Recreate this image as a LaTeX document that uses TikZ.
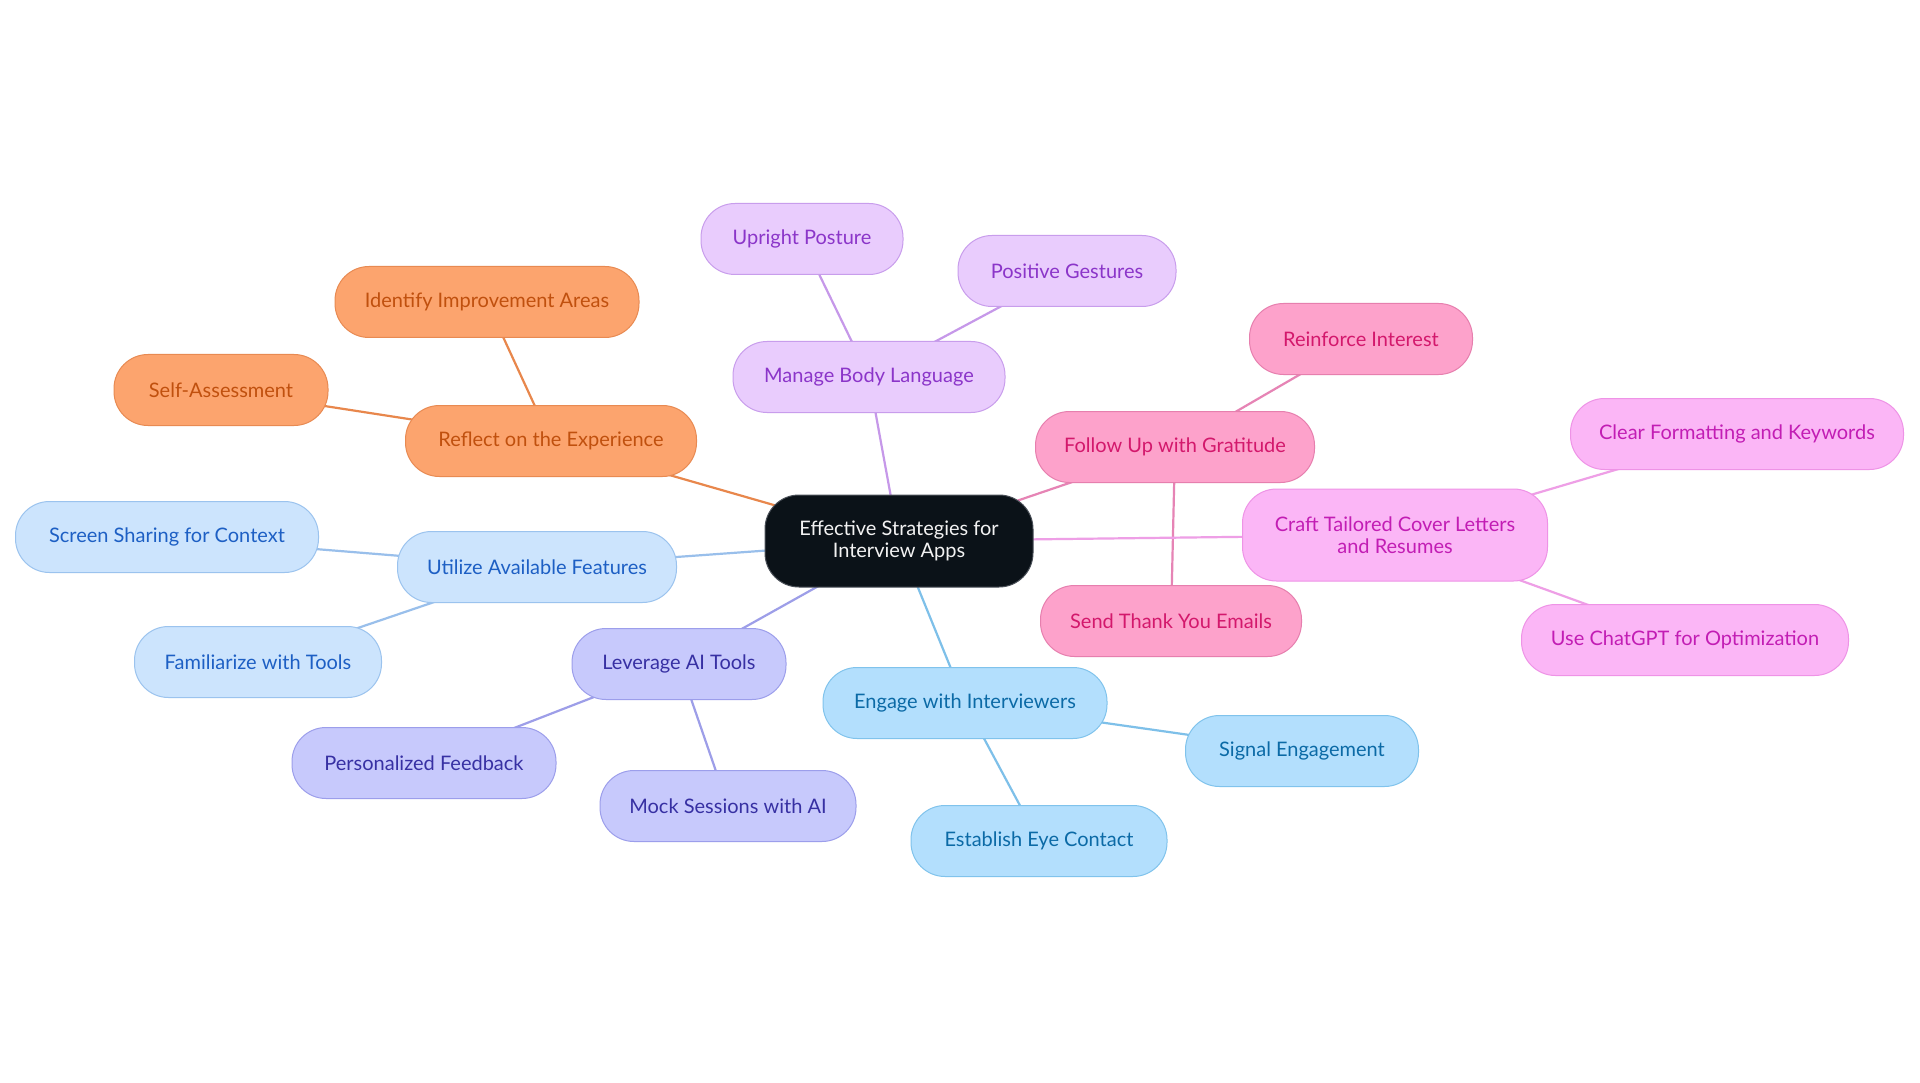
\documentclass[tikz,border=0pt]{standalone}
\usepackage{fontspec}
\setmainfont{Lato}
\usetikzlibrary{backgrounds}
\pgfdeclarelayer{bottom}
\pgfsetlayers{bottom,background,main}
\definecolor{ctrfill}{HTML}{0B1218}
\definecolor{ctrdraw}{HTML}{4A5058}
\definecolor{ctrtext}{HTML}{F2F2F2}
\definecolor{orfill}{HTML}{FCA46E}
\definecolor{ordraw}{HTML}{E88A52}
\definecolor{orline}{HTML}{E8874C}
\definecolor{ortext}{HTML}{C0500E}
\definecolor{pufill}{HTML}{E9CCFD}
\definecolor{pudraw}{HTML}{C89DEC}
\definecolor{puline}{HTML}{C698E9}
\definecolor{putext}{HTML}{8B35C9}
\definecolor{pkfill}{HTML}{FDA2CB}
\definecolor{pkdraw}{HTML}{E67FAE}
\definecolor{pkline}{HTML}{E684B5}
\definecolor{pktext}{HTML}{D3186C}
\definecolor{fufill}{HTML}{FBB6F6}
\definecolor{fudraw}{HTML}{EE93E6}
\definecolor{fuline}{HTML}{EE9FE6}
\definecolor{futext}{HTML}{C21DB4}
\definecolor{blfill}{HTML}{CCE4FD}
\definecolor{bldraw}{HTML}{9BC3EE}
\definecolor{blline}{HTML}{99BFEB}
\definecolor{bltext}{HTML}{1D5FC4}
\definecolor{infill}{HTML}{C7C9FC}
\definecolor{indraw}{HTML}{9C9EEB}
\definecolor{inline}{HTML}{9D9EE8}
\definecolor{intext}{HTML}{3730A3}
\definecolor{skfill}{HTML}{B3DFFD}
\definecolor{skdraw}{HTML}{80C3EC}
\definecolor{skline}{HTML}{7EC0E9}
\definecolor{sktext}{HTML}{0B6AA6}
\tikzset{
  pill/.style={rounded corners=34pt, minimum height=71pt, inner xsep=4pt, align=center,
    line width=1pt, font=\fontsize{20}{22}\selectfont},
  ctr/.style={pill, fill=ctrfill, draw=ctrdraw, text=ctrtext, minimum height=92pt, rounded corners=34pt},
  orn/.style={pill, fill=orfill, draw=ordraw, text=ortext},
  pun/.style={pill, fill=pufill, draw=pudraw, text=putext},
  pkn/.style={pill, fill=pkfill, draw=pkdraw, text=pktext},
  fun/.style={pill, fill=fufill, draw=fudraw, text=futext},
  bln/.style={pill, fill=blfill, draw=bldraw, text=bltext},
  inn/.style={pill, fill=infill, draw=indraw, text=intext},
  skn/.style={pill, fill=skfill, draw=skdraw, text=sktext},
  link/.style={line width=2.2pt}
}
\begin{document}
\begin{tikzpicture}[x=1pt,y=-1pt]
\begin{pgfonlayer}{bottom}
\fill[white] (0,0) rectangle (1920,1083);
\end{pgfonlayer}
\useasboundingbox (0,0) rectangle (1920,1083);

\node[ctr, minimum width=268pt] (c) at (899,541) {Effective Strategies for\\Interview Apps};

\node[orn, minimum width=291pt] (refl) at (551,441) {Reflect on the Experience};
\node[orn, minimum width=304pt] (ident) at (487,302) {Identify Improvement Areas};
\node[orn, minimum width=214pt] (self) at (221,390) {Self-Assessment};

\node[pun, minimum width=272pt] (body) at (869,377) {Manage Body Language};
\node[pun, minimum width=202pt] (post) at (802,239) {Upright Posture};
\node[pun, minimum width=218pt] (gest) at (1067,271) {Positive Gestures};

\node[pkn, minimum width=279pt] (foll) at (1175,447) {Follow Up with Gratitude};
\node[pkn, minimum width=223pt] (reinf) at (1361,339) {Reinforce Interest};
\node[pkn, minimum width=261pt] (thank) at (1171,621) {Send Thank You Emails};

\node[fun, minimum width=305pt, minimum height=92pt] (craft) at (1395,535) {Craft Tailored Cover Letters\\and Resumes};
\node[fun, minimum width=333pt] (clear) at (1737,434) {Clear Formatting and Keywords};
\node[fun, minimum width=327pt] (gpt) at (1685,640) {Use ChatGPT for Optimization};

\node[bln, minimum width=279pt] (util) at (537,567) {Utilize Available Features};
\node[bln, minimum width=303pt] (screen) at (167,537) {Screen Sharing for Context};
\node[bln, minimum width=247pt] (fam) at (258,662) {Familiarize with Tools};

\node[inn, minimum width=214pt] (ai) at (679,664) {Leverage AI Tools};
\node[inn, minimum width=264pt] (pers) at (424,763) {Personalized Feedback};
\node[inn, minimum width=256pt] (mock) at (728,806) {Mock Sessions with AI};

\node[skn, minimum width=284pt] (eng) at (965,703) {Engage with Interviewers};
\node[skn, minimum width=233pt] (sig) at (1302,751) {Signal Engagement};
\node[skn, minimum width=256pt] (eye) at (1039,841) {Establish Eye Contact};

\begin{pgfonlayer}{background}
\draw[link, orline] (c.center) -- (refl.center);
\draw[link, orline] (refl.center) -- (ident.center);
\draw[link, orline] (refl.center) -- (self.center);
\draw[link, puline] (c.center) -- (body.center);
\draw[link, puline] (body.center) -- (post.center);
\draw[link, puline] (body.center) -- (gest.center);
\draw[link, pkline] (c.center) -- (foll.center);
\draw[link, pkline] (foll.center) -- (reinf.center);
\draw[link, pkline] (foll.center) -- (thank.center);
\draw[link, fuline] (c.center) -- (craft.center);
\draw[link, fuline] (craft.center) -- (clear.center);
\draw[link, fuline] (craft.center) -- (gpt.center);
\draw[link, blline] (c.center) -- (util.center);
\draw[link, blline] (util.center) -- (screen.center);
\draw[link, blline] (util.center) -- (fam.center);
\draw[link, inline] (c.center) -- (ai.center);
\draw[link, inline] (ai.center) -- (pers.center);
\draw[link, inline] (ai.center) -- (mock.center);
\draw[link, skline] (c.center) -- (eng.center);
\draw[link, skline] (eng.center) -- (sig.center);
\draw[link, skline] (eng.center) -- (eye.center);
\end{pgfonlayer}
\end{tikzpicture}
\end{document}
